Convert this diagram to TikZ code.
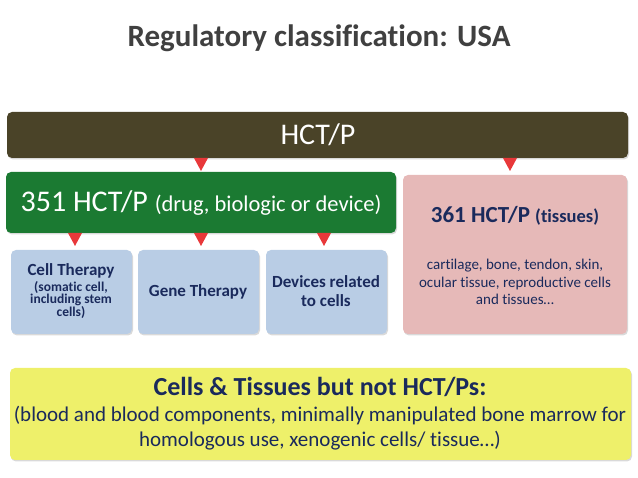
\documentclass[tikz,border=0pt]{standalone}
\usepackage{fontspec}
\setmainfont{Carlito}[Ligatures=NoCommon]
\usetikzlibrary{shadows}
\definecolor{olive}{HTML}{4A4328}
\definecolor{grn}{HTML}{1B7A32}
\definecolor{pinkb}{HTML}{E6B9B8}
\definecolor{blueb}{HTML}{B9CDE5}
\definecolor{navy}{HTML}{1A2A5C}
\definecolor{yel}{HTML}{EEF06A}
\definecolor{titlec}{HTML}{404040}
\definecolor{tri}{HTML}{E8383A}
\tikzset{
 box/.style={rounded corners=5pt, drop shadow={opacity=0.3,shadow xshift=1pt,shadow yshift=-1.5pt}},
 blue/.style={box, fill=blueb},
 arr/.style={fill=tri},
}
\begin{document}
\begin{tikzpicture}[x=1pt,y=-1pt]
\useasboundingbox (0,0) rectangle (638,478);
\node[text=titlec,font=\fontsize{31}{36}\selectfont\bfseries] (title) at (319,38) {Regulatory classification: USA};
\draw[box,fill=olive,draw=none] (7,112) rectangle (628,158);
\node[text=white,font=\fontsize{30}{34}\selectfont] (hct) at (318,135) {HCT/P};
\draw[box,fill=grn,draw=none] (6,172) rectangle (396,233);
\node[text=white] (h351) at (201,203) {\fontsize{30}{34}\selectfont 351 HCT/P \fontsize{22.5}{26}\selectfont(drug, biologic or device)};
\draw[box,fill=pinkb,draw=none] (403,175) rectangle (627,334);
\node[text=navy,font=\bfseries] (h361) at (515,216) {\fontsize{23}{27}\selectfont 361 HCT/P \fontsize{18.5}{22}\selectfont(tissues)};
\node[text=navy,align=center,font=\fontsize{15}{17.5}\selectfont] (tis) at (515,282) {cartilage, bone, tendon, skin,\\ocular tissue, reproductive cells\\and tissues…};
\draw[blue,draw=none] (11,250) rectangle (132,334);
\draw[blue,draw=none] (138,250) rectangle (259,334);
\draw[blue,draw=none] (266,250) rectangle (387,334);
\node[text=navy,align=center,font=\bfseries] (ct) at (71,291) {\fontsize{17}{19}\selectfont Cell Therapy\\[2pt]\fontsize{13.5}{15}\selectfont (somatic cell,\\\fontsize{13.5}{15}\selectfont including stem\\\fontsize{13.5}{15}\selectfont cells)};
\node[text=navy,font=\fontsize{17}{20}\selectfont\bfseries] (gt) at (198,292) {Gene Therapy};
\node[text=navy,align=center,font=\fontsize{17}{19}\selectfont\bfseries] (dev) at (326,291) {Devices related\\to cells};
\draw[box,fill=yel,draw=none] (10,368) rectangle (631,460);
\node[text=navy,align=center,font=\fontsize{21}{25}\selectfont] (ct2) at (320,414) {{\fontsize{26}{30}\selectfont\bfseries Cells \& Tissues but not HCT/Ps:}\\[1pt] (blood and blood components, minimally manipulated bone marrow for\\ homologous use, xenogenic cells/ tissue…)};
\foreach \x/\t in {201/158,510/158,75/233,201/233,324/233}
  \fill[arr] (\x-7,\t) -- (\x+7,\t) -- (\x,\t+13) -- cycle;
\end{tikzpicture}
\end{document}
